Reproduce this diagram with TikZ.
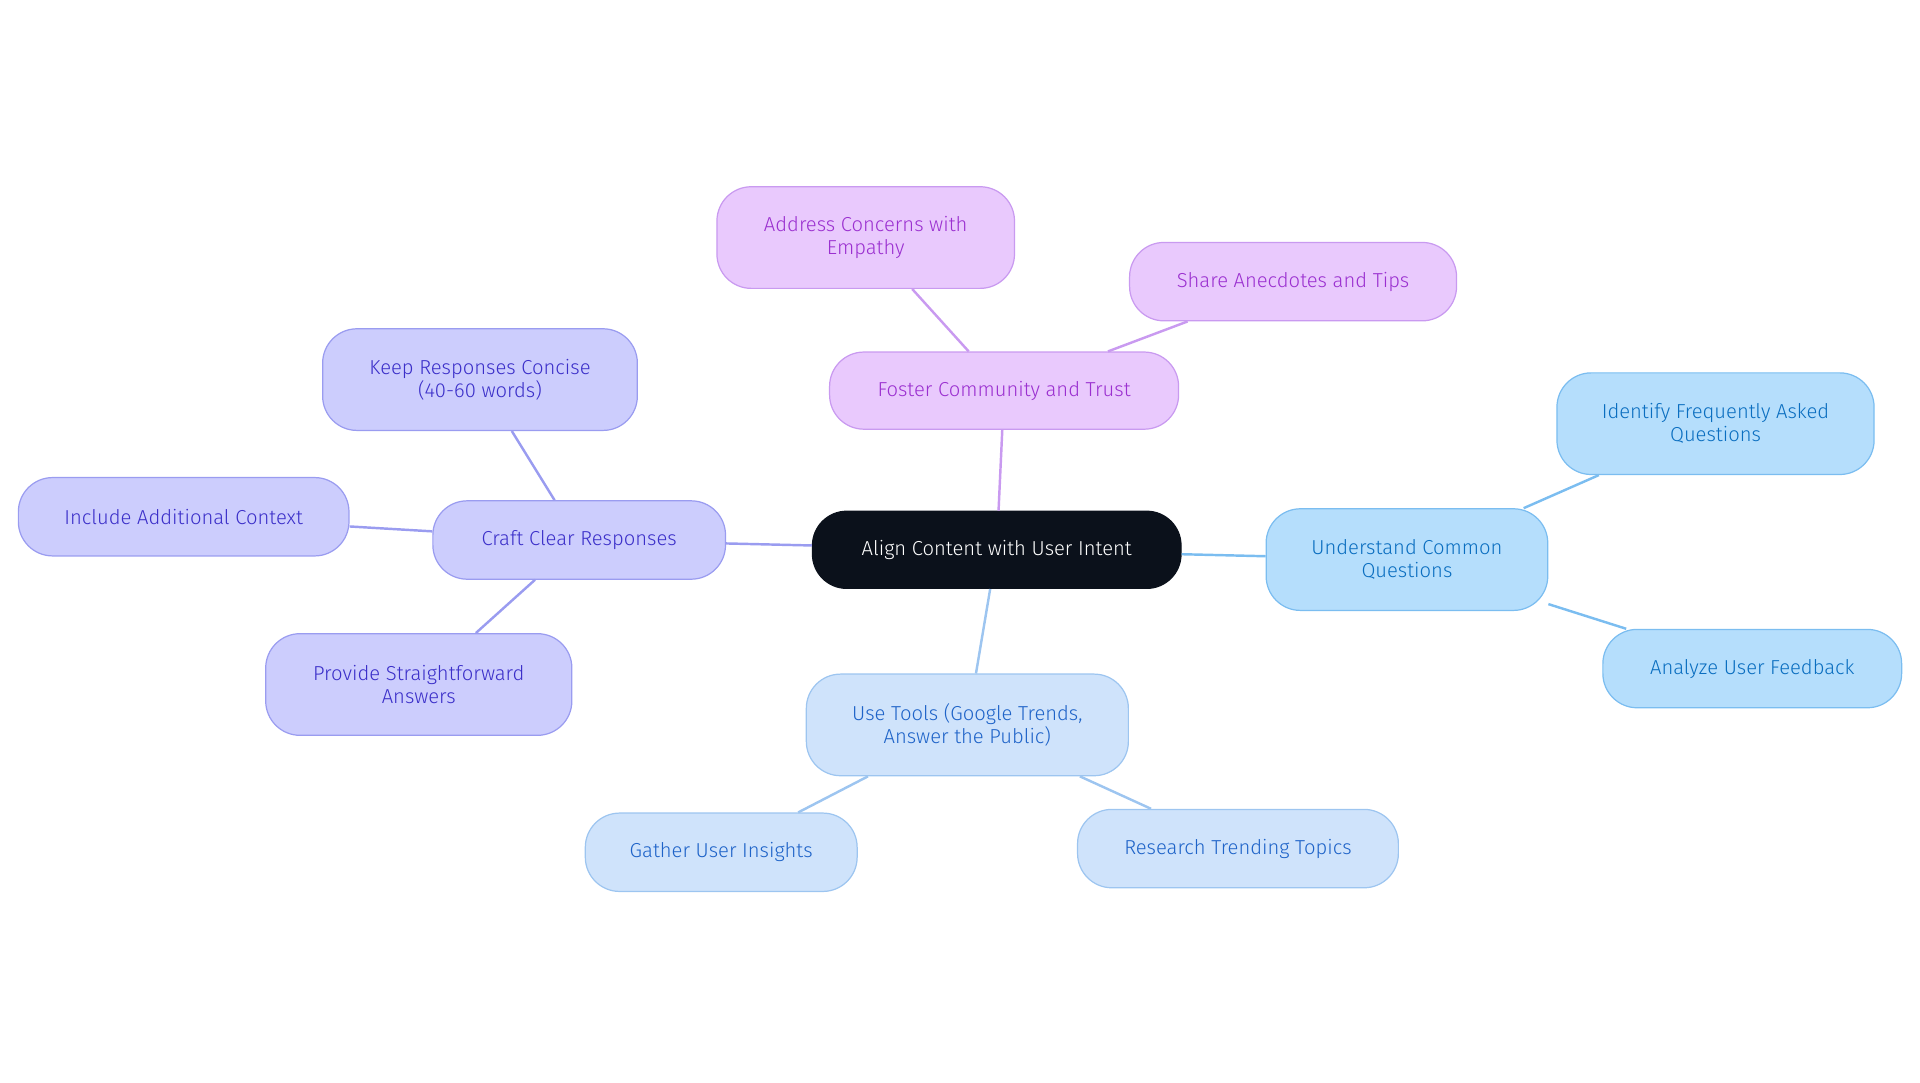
\documentclass[tikz,border=0pt]{standalone}
\usepackage{fontspec}
\setmainfont{Fira Sans}[UprightFont=* Light]
\begin{document}
\begin{tikzpicture}[x=1pt,y=-1pt,
  box/.style={draw, rounded corners=28pt, line width=1pt, align=center, inner sep=0pt, font=\fontsize{16.5}{19}\selectfont},
  rootc/.style={box, fill=black!90!blue, draw=black, text=white},
  pur/.style={box, fill=purple!0!blue!20, draw=blue!40, text=blue!70!black},
  vio/.style={box, fill=violet!20!white, text=violet!80!white},
  cyan/.style={box, fill=cyan!30!white, draw=cyan!50!blue!50, text=blue!60!cyan!90!black},
  lb/.style={box, fill=blue!20!white, text=blue!70!black},
  ln/.style={line width=2pt}]
\definecolor{pfill}{HTML}{CCCDFD}\definecolor{pdraw}{HTML}{9A9CF0}\definecolor{ptext}{HTML}{3B2FC9}
\definecolor{vfill}{HTML}{E9C9FD}\definecolor{vdraw}{HTML}{C99AF0}\definecolor{vtext}{HTML}{9B30D0}
\definecolor{cfill}{HTML}{B5DEFC}\definecolor{cdraw}{HTML}{7BBDF0}\definecolor{ctext}{HTML}{0A6EC0}
\definecolor{lfill}{HTML}{CFE3FB}\definecolor{ldraw}{HTML}{9DC5F0}\definecolor{ltext}{HTML}{1E63C8}
\definecolor{rfill}{HTML}{0B111B}
\useasboundingbox (0,0) rectangle (1568,884);
\tikzset{
 pur/.style={box, fill=pfill, draw=pdraw, text=ptext},
 vio/.style={box, fill=vfill, draw=vdraw, text=vtext},
 cyan/.style={box, fill=cfill, draw=cdraw, text=ctext},
 lb/.style={box, fill=lfill, draw=ldraw, text=ltext},
 rootc/.style={box, fill=rfill, draw=rfill, text=white}}
\node[rootc, minimum width=301pt, minimum height=63pt] (root) at (814,449) {Align Content with User Intent};
\node[pur, minimum width=239pt, minimum height=64pt] (craft) at (473,441) {Craft Clear Responses};
\node[pur, minimum width=257pt, minimum height=83pt] (keep) at (392,310) {Keep Responses Concise\\(40-60 words)};
\node[pur, minimum width=270pt, minimum height=64pt] (incl) at (150,422) {Include Additional Context};
\node[pur, minimum width=250pt, minimum height=83pt] (prov) at (342,559) {Provide Straightforward\\Answers};
\node[vio, minimum width=285pt, minimum height=63pt] (fost) at (820,319) {Foster Community and Trust};
\node[vio, minimum width=243pt, minimum height=83pt] (addr) at (707,194) {Address Concerns with\\Empathy};
\node[vio, minimum width=267pt, minimum height=64pt] (share) at (1056,230) {Share Anecdotes and Tips};
\node[cyan, minimum width=230pt, minimum height=83pt] (und) at (1149,457) {Understand Common\\Questions};
\node[cyan, minimum width=259pt, minimum height=83pt] (ident) at (1401,346) {Identify Frequently Asked\\Questions};
\node[cyan, minimum width=244pt, minimum height=64pt] (anal) at (1431,546) {Analyze User Feedback};
\node[lb, minimum width=263pt, minimum height=83pt] (tools) at (790,592) {Use Tools (Google Trends,\\Answer the Public)};
\node[lb, minimum width=222pt, minimum height=64pt] (gath) at (589,696) {Gather User Insights};
\node[lb, minimum width=262pt, minimum height=64pt] (res) at (1011,693) {Research Trending Topics};
\begin{scope}[on background layer/.style={}]
\end{scope}
\draw[ln, pdraw] (root) -- (craft);
\draw[ln, pdraw] (craft) -- (keep);
\draw[ln, pdraw] (craft) -- (incl);
\draw[ln, pdraw] (craft) -- (prov);
\draw[ln, vdraw] (root) -- (fost);
\draw[ln, vdraw] (fost) -- (addr);
\draw[ln, vdraw] (fost) -- (share);
\draw[ln, cdraw] (root) -- (und);
\draw[ln, cdraw] (und) -- (ident);
\draw[ln, cdraw] (und) -- (anal);
\draw[ln, ldraw] (root) -- (tools);
\draw[ln, ldraw] (tools) -- (gath);
\draw[ln, ldraw] (tools) -- (res);
\end{tikzpicture}
\end{document}
